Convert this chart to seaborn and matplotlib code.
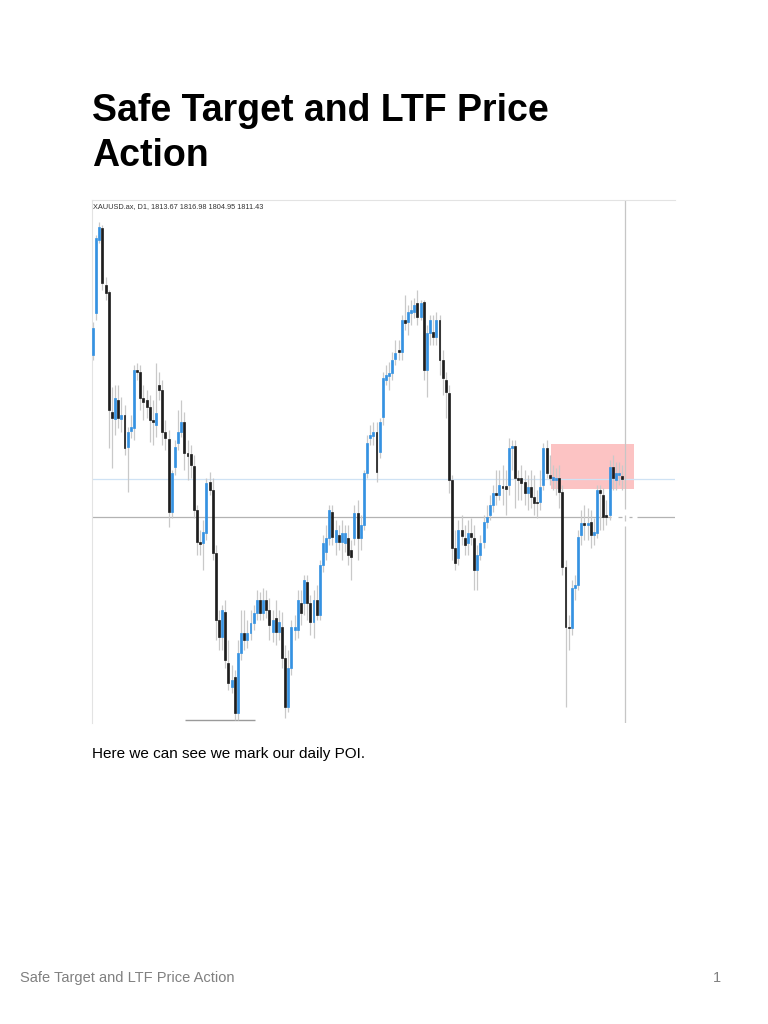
import matplotlib
matplotlib.use("Agg")
import matplotlib.pyplot as plt
import seaborn as sns
import pandas as pd

# daily candles, XAUUSD D1
opens = [1935, 1977, 2050, 2062, 2005, 1998, 1878, 1871, 1890, 1871,
         1875, 1843, 1859, 1862, 1920, 1918, 1892, 1890, 1883, 1870,
         1865, 1905, 1900, 1858, 1851, 1778, 1823, 1847, 1858, 1868,
         1837, 1836, 1824, 1780, 1748, 1747, 1757, 1808, 1800, 1737,
         1670, 1653, 1678, 1627, 1603, 1613, 1577, 1637, 1657, 1650,
         1657, 1667, 1677, 1690, 1677, 1690, 1680, 1658, 1672, 1658,
         1663, 1632, 1583, 1622, 1660, 1660, 1687, 1687, 1708, 1687,
         1668, 1690, 1675, 1725, 1738, 1752, 1778, 1748, 1755, 1748,
         1747, 1752, 1740, 1752, 1777, 1752, 1765, 1817, 1852, 1854,
         1858, 1838, 1873, 1910, 1914, 1917, 1931, 1940, 1938, 1970,
         1968, 1977, 1978, 1987, 1973, 1988, 1920, 1957, 1958, 1953,
         1970, 1930, 1910, 1897, 1810, 1742, 1732, 1760, 1752, 1747,
         1757, 1752, 1720, 1735, 1748, 1768, 1775, 1785, 1797, 1795,
         1804, 1804, 1805, 1842, 1844, 1812, 1812, 1808, 1797, 1803,
         1793, 1788, 1788, 1805, 1842, 1815, 1810, 1810, 1812, 1798,
         1723, 1663, 1662, 1702, 1705, 1755, 1767, 1765, 1768, 1755,
         1757, 1800, 1795, 1775, 1775, 1823, 1810, 1815, 1814]
closes = [1962, 2052, 2063, 2007, 1997, 1880, 1872, 1892, 1872, 1875,
          1842, 1858, 1863, 1920, 1918, 1892, 1888, 1883, 1870, 1868,
          1877, 1900, 1858, 1852, 1778, 1817, 1843, 1858, 1868, 1837,
          1834, 1825, 1780, 1748, 1746, 1758, 1807, 1800, 1737, 1670,
          1653, 1680, 1630, 1607, 1610, 1577, 1637, 1657, 1650, 1657,
          1667, 1677, 1690, 1677, 1690, 1680, 1665, 1670, 1658, 1668,
          1632, 1583, 1622, 1663, 1663, 1690, 1677, 1710, 1687, 1668,
          1690, 1675, 1725, 1747, 1752, 1780, 1753, 1760, 1748, 1757,
          1757, 1735, 1733, 1777, 1752, 1765, 1817, 1847, 1855, 1858,
          1818, 1868, 1912, 1915, 1917, 1930, 1937, 1938, 1970, 1967,
          1978, 1980, 1985, 1973, 1987, 1920, 1957, 1970, 1953, 1970,
          1930, 1912, 1898, 1810, 1742, 1727, 1760, 1754, 1745, 1757,
          1753, 1720, 1735, 1747, 1768, 1773, 1785, 1797, 1795, 1805,
          1802, 1801, 1842, 1844, 1812, 1810, 1807, 1797, 1803, 1793,
          1787, 1787, 1803, 1842, 1817, 1812, 1813, 1812, 1798, 1723,
          1663, 1662, 1702, 1705, 1753, 1767, 1765, 1767, 1755, 1758,
          1800, 1797, 1773, 1773, 1823, 1812, 1817, 1817, 1811]
highs = [1968, 2055, 2068, 2065, 2013, 2000, 1903, 1905, 1905, 1893,
         1885, 1863, 1875, 1925, 1927, 1925, 1905, 1900, 1895, 1890,
         1927, 1918, 1910, 1870, 1860, 1820, 1850, 1880, 1890, 1878,
         1850, 1845, 1835, 1785, 1760, 1770, 1812, 1818, 1812, 1745,
         1680, 1685, 1690, 1650, 1625, 1620, 1650, 1680, 1680, 1670,
         1680, 1685, 1700, 1698, 1702, 1700, 1692, 1680, 1690, 1680,
         1678, 1645, 1640, 1670, 1675, 1700, 1700, 1715, 1715, 1695,
         1700, 1705, 1730, 1755, 1765, 1785, 1785, 1770, 1765, 1770,
         1765, 1765, 1750, 1785, 1790, 1775, 1820, 1855, 1865, 1868,
         1868, 1872, 1918, 1925, 1928, 1938, 1950, 1950, 1975, 1995,
         1985, 1990, 1992, 2000, 1990, 1990, 1965, 1975, 1975, 1978,
         1975, 1940, 1918, 1905, 1815, 1760, 1770, 1775, 1765, 1770,
         1772, 1765, 1745, 1755, 1775, 1785, 1795, 1805, 1820, 1820,
         1825, 1820, 1852, 1850, 1850, 1820, 1825, 1820, 1815, 1820,
         1815, 1800, 1820, 1847, 1850, 1835, 1825, 1822, 1825, 1805,
         1730, 1675, 1710, 1715, 1760, 1780, 1785, 1782, 1780, 1772,
         1805, 1805, 1802, 1790, 1830, 1835, 1828, 1828, 1825]
lows = [1930, 1970, 2047, 2000, 1990, 1842, 1822, 1855, 1862, 1858,
        1835, 1798, 1852, 1850, 1910, 1880, 1870, 1872, 1848, 1845,
        1853, 1890, 1845, 1840, 1763, 1772, 1815, 1840, 1853, 1820,
        1810, 1812, 1772, 1735, 1735, 1720, 1750, 1795, 1730, 1650,
        1640, 1640, 1622, 1600, 1597, 1570, 1570, 1630, 1640, 1642,
        1650, 1660, 1670, 1670, 1670, 1672, 1650, 1648, 1645, 1650,
        1622, 1572, 1578, 1615, 1650, 1652, 1665, 1675, 1670, 1655,
        1652, 1670, 1670, 1718, 1730, 1745, 1745, 1735, 1740, 1730,
        1738, 1725, 1710, 1745, 1730, 1740, 1760, 1812, 1845, 1845,
        1808, 1832, 1865, 1905, 1900, 1910, 1925, 1930, 1930, 1960,
        1955, 1965, 1972, 1965, 1970, 1910, 1893, 1945, 1945, 1945,
        1915, 1895, 1872, 1797, 1730, 1720, 1725, 1745, 1735, 1735,
        1745, 1700, 1700, 1730, 1742, 1762, 1770, 1778, 1785, 1790,
        1785, 1775, 1795, 1820, 1782, 1790, 1790, 1785, 1780, 1782,
        1775, 1772, 1780, 1800, 1812, 1805, 1800, 1795, 1782, 1715,
        1583, 1640, 1655, 1690, 1700, 1745, 1750, 1750, 1742, 1745,
        1752, 1760, 1760, 1765, 1770, 1800, 1800, 1805, 1800]

header = "XAUUSD.ax, D1, 1813.67 1816.98 1804.95 1811.43"
title_lines = ["Safe Target and LTF Price", "Action"]
caption = "Here we can see we mark our daily POI."
footer = "Safe Target and LTF Price Action"
page_no = "1"

current_price = 1811     # light blue price line
level_price = 1773       # grey horizontal level
poi_low, poi_high = 1801, 1846
swing_low = 1570

df = pd.DataFrame({"open": opens, "high": highs, "low": lows, "close": closes})
df["idx"] = range(len(df))
df["bull"] = df["close"] >= df["open"]

sns.set_theme(style="white")
plt.rcParams["font.family"] = ["Liberation Sans", "DejaVu Sans"]

fig = plt.figure(figsize=(7.68, 10.24), dpi=100)
fig.patch.set_facecolor("white")

# chart area in pixel terms: x 92..675, y 200..723
ax = fig.add_axes([92 / 768, 1 - 723 / 1024, 583 / 768, 523 / 1024])
ax.set_facecolor("white")
step = 3.15
ax.set_xlim(-1 / step, 582 / step)
ax.set_ylim(1567, 2090)

# POI zone
ax.fill_between([145.4, 171.7], poi_low, poi_high, color="#fcc3c3", lw=0, zorder=1)

# levels
ax.axhline(current_price, color="#cfe2f4", lw=0.9, zorder=1.5)
ax.hlines([level_price] * 4, [-1, 166.6, 170.0, 172.6], [164.6, 167.8, 171.2, 190],
          color="#b3b3b3", lw=0.9, zorder=1.5)
ax.vlines([168.95] * 3, [1560, 1769, 1781], [1764, 1775, 2100], color="#c6c6c6", lw=0.9, zorder=1.5)
ax.hlines(swing_low, 29.2, 51.4, color="#9a9a9a", lw=1.0, zorder=1.5)

# candles
bull_c = "#3592e2"
bear_c = "#1e1e1e"
colors = [bull_c if b else bear_c for b in df["bull"]]
ax.vlines(df["idx"], df["low"], df["high"], colors="#c9c9c9", lw=0.9, zorder=2)
ax.bar(df["idx"], df["close"] - df["open"], bottom=df["open"], width=0.62,
       color=colors, edgecolor=colors, linewidth=0.5, zorder=3)

ax.set_xticks([])
ax.set_yticks([])
sns.despine(ax=ax, right=True, bottom=True, top=False, left=False)
for side in ["top", "left"]:
    ax.spines[side].set_color("#e3e3e3")
    ax.spines[side].set_linewidth(0.8)

fig.text(93 / 768, 1 - 207 / 1024, header, fontsize=5.3, color="#333333", va="center")

fig.text(92 / 768, 1 - 121 / 1024, title_lines[0], fontsize=27, fontweight="bold",
         color="black", va="baseline")
fig.text(92 / 768, 1 - 166 / 1024, title_lines[1], fontsize=27, fontweight="bold",
         color="black", va="baseline")
fig.text(92 / 768, 1 - 758 / 1024, caption, fontsize=11, color="black", va="baseline")
fig.text(20 / 768, 1 - 982 / 1024, footer, fontsize=10.5, color="#808080", va="baseline")
fig.text(721 / 768, 1 - 982 / 1024, page_no, fontsize=10.5, color="#808080",
         va="baseline", ha="right")

fig.savefig("out.png", dpi=100)
